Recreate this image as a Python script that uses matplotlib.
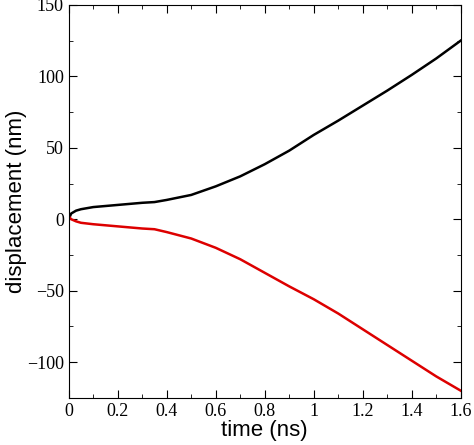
import numpy as np
import matplotlib
matplotlib.use("Agg")
import matplotlib.pyplot as plt
from matplotlib.ticker import MultipleLocator

# values
t_black = [0.0, 0.01, 0.03, 0.05, 0.1, 0.2, 0.3, 0.35, 0.4, 0.5, 0.6, 0.7, 0.8, 0.9, 1.0, 1.1, 1.2, 1.3, 1.4, 1.5, 1.6]
d_black = [0.0, 4.0, 6.0, 7.0, 8.5, 10.0, 11.5, 12.0, 13.5, 17.0, 23.0, 30.0, 38.5, 48.0, 59.0, 69.0, 79.5, 90.0, 101.0, 112.5, 125.0]
t_red = [0.0, 0.01, 0.03, 0.05, 0.1, 0.2, 0.3, 0.35, 0.4, 0.5, 0.6, 0.7, 0.8, 0.9, 1.0, 1.1, 1.2, 1.3, 1.4, 1.5, 1.6]
d_red = [2.0, 0.0, -1.5, -2.5, -3.5, -5.0, -6.5, -7.0, -9.0, -13.5, -20.0, -28.0, -37.5, -47.0, -56.0, -66.0, -77.0, -88.0, -99.0, -110.0, -120.0]

fig = plt.figure(figsize=(4.74, 4.45), dpi=100)
ax = fig.add_axes([0.145, 0.106, 0.827, 0.883])
ax.plot(t_black, d_black, color="black", lw=1.8)
ax.plot(t_red, d_red, color="#dd0000", lw=1.8)
ax.set_xlim(0, 1.6)
ax.set_ylim(-125, 150)
ax.set_xticks([0, 0.2, 0.4, 0.6, 0.8, 1, 1.2, 1.4, 1.6])
ax.set_xticklabels(["0", "0.2", "0.4", "0.6", "0.8", "1", "1.2", "1.4", "1.6"])
ax.set_yticks([-100, -50, 0, 50, 100, 150])
ax.xaxis.set_minor_locator(MultipleLocator(0.1))
ax.yaxis.set_minor_locator(MultipleLocator(25))
ax.tick_params(which="both", direction="in", top=True, right=True, labelsize=13)
ax.tick_params(which="major", length=6)
ax.tick_params(which="minor", length=3)
for lab in ax.get_xticklabels() + ax.get_yticklabels():
    lab.set_family("Liberation Serif")
ax.set_xlabel("time (ns)", fontsize=16, labelpad=0, family="Liberation Sans")
ax.set_ylabel("displacement (nm)", fontsize=16, labelpad=0, family="Liberation Sans")
fig.savefig("out.png", dpi=100)
